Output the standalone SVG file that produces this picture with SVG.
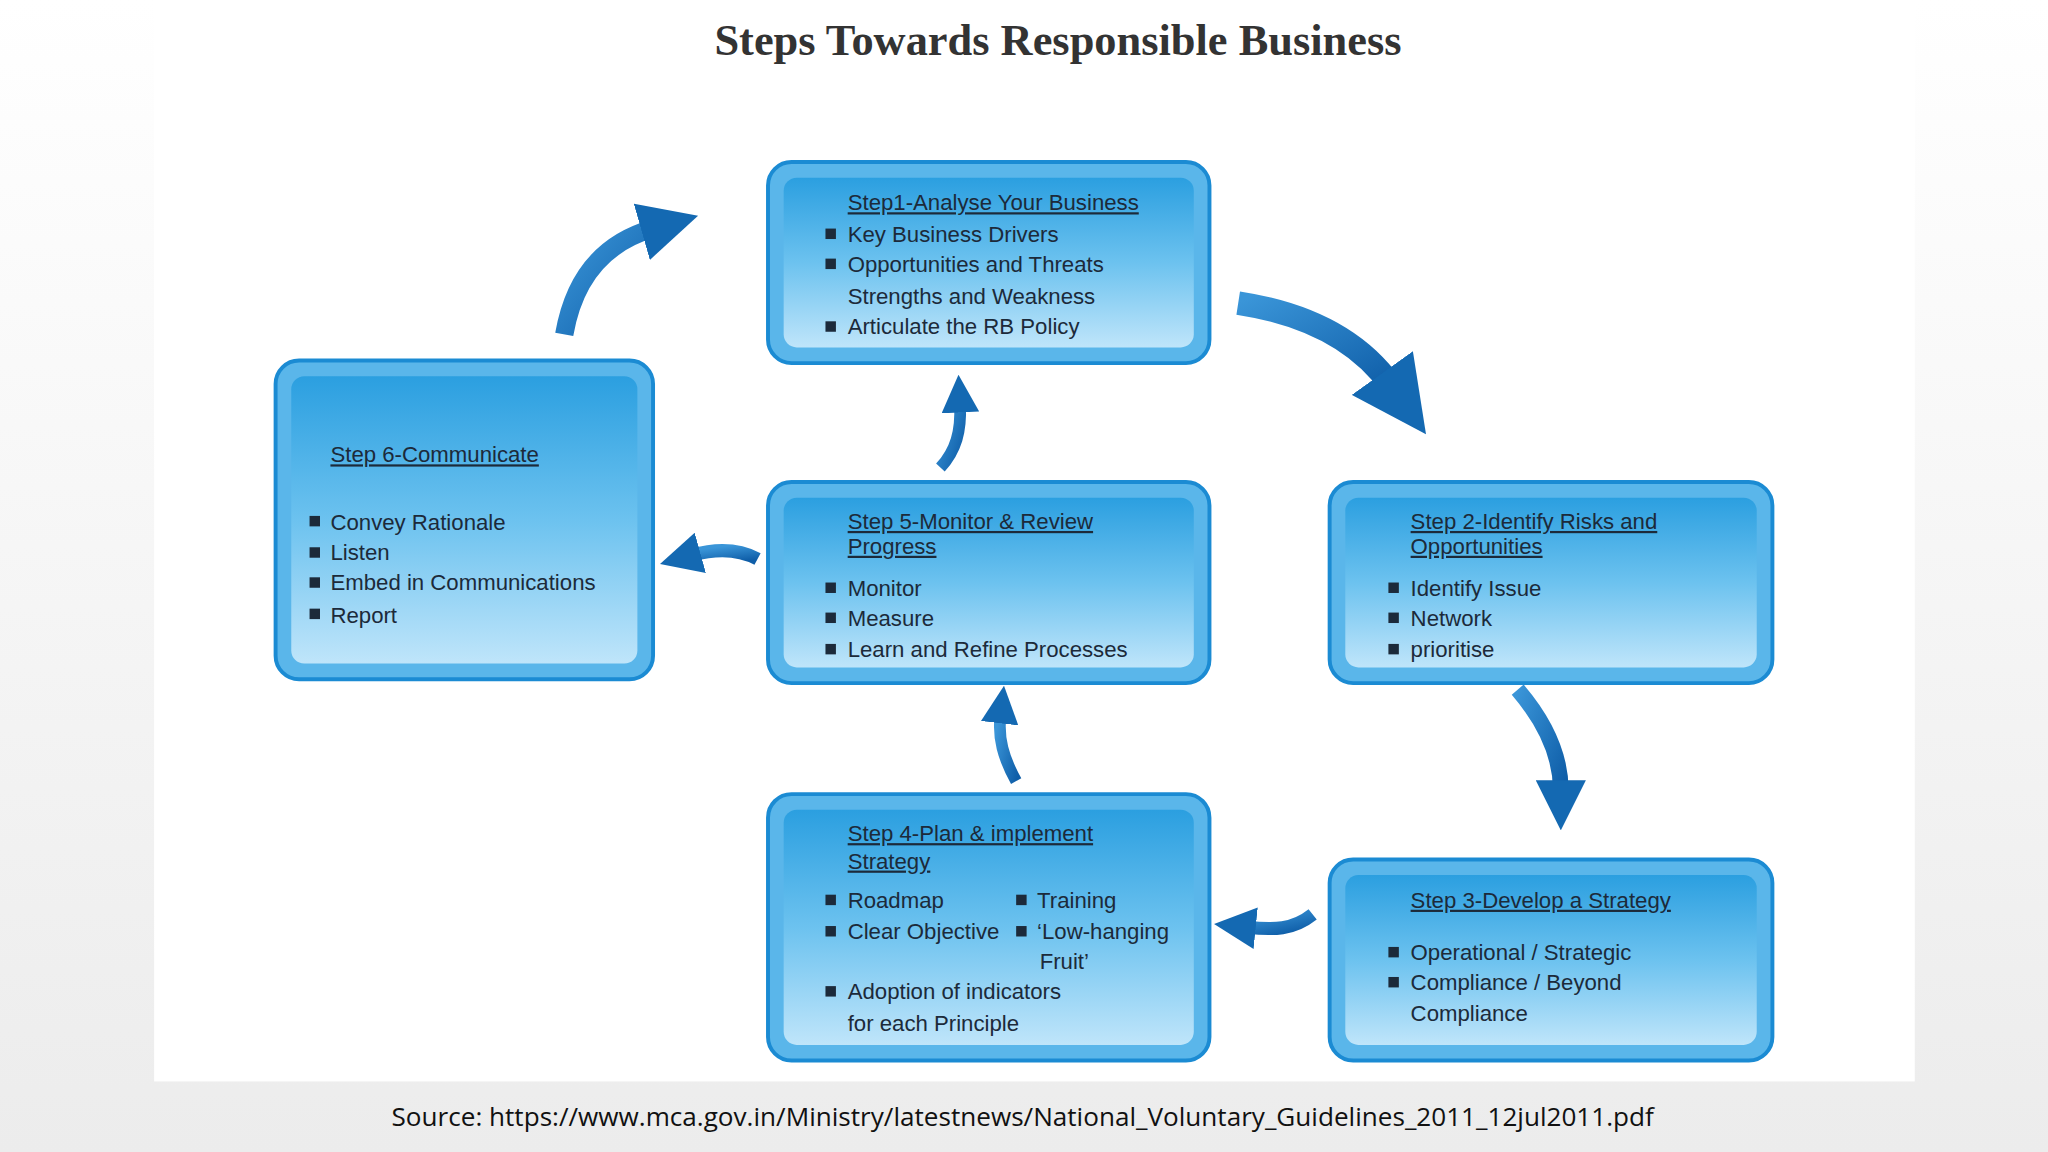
<svg xmlns="http://www.w3.org/2000/svg" width="2048" height="1152" viewBox="0 0 2048 1152">
<defs>
<linearGradient id="bg" x1="0" y1="0" x2="0" y2="1"><stop offset="0" stop-color="#ffffff"/><stop offset="1" stop-color="#ececec"/></linearGradient>
<linearGradient id="inner" x1="0" y1="0" x2="0" y2="1"><stop offset="0" stop-color="#2b9fe0"/><stop offset="0.5" stop-color="#6cc2ef"/><stop offset="1" stop-color="#bfe5fa"/></linearGradient>
<linearGradient id="arr" x1="0" y1="0" x2="1" y2="1"><stop offset="0" stop-color="#3a95d8"/><stop offset="1" stop-color="#0f5ea8"/></linearGradient>
<marker id="ah" viewBox="0 0 10 10" refX="2" refY="5" markerWidth="3.2" markerHeight="3.2" orient="auto" markerUnits="strokeWidth"><path d="M0,0 L10,5 L0,10 Z" fill="#1469b2"/></marker>
<style>
.o{fill:#5ab6ea;stroke:#1b8bd3;stroke-width:3}
.i{fill:url(#inner)}
text{font-family:"Liberation Sans",Arial,sans-serif;font-size:17px;fill:#1c2a3a}
.h{text-decoration:underline}
.b{fill:#1c2a3a}
.a{fill:none;stroke:url(#arr);stroke-linecap:butt}
</style>
</defs>
<rect width="2048" height="1152" fill="url(#bg)"/>
<g transform="scale(1.30612)">
<rect x="118" y="0" width="1348" height="828" fill="#ffffff"/>
<text x="810" y="42" text-anchor="middle" style="font-family:'Liberation Serif',serif;font-size:34px;font-weight:bold;fill:#333">Steps Towards Responsible Business</text>
<text x="783" y="862" text-anchor="middle" style="font-family:'Open Sans',sans-serif;font-size:20px;fill:#111">Source: https://www.mca.gov.in/Ministry/latestnews/National_Voluntary_Guidelines_2011_12jul2011.pdf</text>

<g id="connectors">
<path class="a" d="M432,256 C440,210 465,185 500,175" stroke-width="14" marker-end="url(#ah)"/>
<path class="a" d="M948,232 C1000,240 1040,260 1065,295" stroke-width="18" marker-end="url(#ah)"/>
<path class="a" d="M1162,528 C1185,555 1195,580 1195,605" stroke-width="12" marker-end="url(#ah)"/>
<path class="a" d="M1005,700 C990,712 975,712 955,710" stroke-width="10" marker-end="url(#ah)"/>
<path class="a" d="M778,598 C768,580 764,565 766,548" stroke-width="9" marker-end="url(#ah)"/>
<path class="a" d="M720,358 C732,345 736,330 735,310" stroke-width="9" marker-end="url(#ah)"/>
<path class="a" d="M580,428 C565,420 548,420 530,425" stroke-width="10" marker-end="url(#ah)"/>
</g>

<g id="step1"><rect class="o" x="588" y="124" width="338" height="154" rx="18"/><rect class="i" x="600" y="136" width="314" height="130" rx="10"/>
<text class="h" x="649" y="161">Step1-Analyse Your Business</text>
<rect class="b" x="632" y="175" width="8" height="8"/><text x="649" y="185">Key Business Drivers</text>
<rect class="b" x="632" y="198" width="8" height="8"/><text x="649" y="208">Opportunities and Threats</text>
<text x="649" y="233">Strengths and Weakness</text>
<rect class="b" x="632" y="246" width="8" height="8"/><text x="649" y="256">Articulate the RB Policy</text></g>

<g id="step6"><rect class="o" x="211" y="276" width="289" height="244" rx="18"/><rect class="i" x="223" y="288" width="265" height="220" rx="10"/>
<text class="h" x="253" y="354">Step 6-Communicate</text>
<rect class="b" x="237" y="395" width="8" height="8"/><text x="253" y="406">Convey Rationale</text>
<rect class="b" x="237" y="419" width="8" height="8"/><text x="253" y="429">Listen</text>
<rect class="b" x="237" y="442" width="8" height="8"/><text x="253" y="452">Embed in Communications</text>
<rect class="b" x="237" y="466" width="8" height="8"/><text x="253" y="477">Report</text></g>

<g id="step5"><rect class="o" x="588" y="369" width="338" height="154" rx="18"/><rect class="i" x="600" y="381" width="314" height="130" rx="10"/>
<text class="h" x="649" y="405">Step 5-Monitor &amp; Review</text>
<text class="h" x="649" y="424">Progress</text>
<rect class="b" x="632" y="446" width="8" height="8"/><text x="649" y="456">Monitor</text>
<rect class="b" x="632" y="469" width="8" height="8"/><text x="649" y="479">Measure</text>
<rect class="b" x="632" y="493" width="8" height="8"/><text x="649" y="503">Learn and Refine Processes</text></g>

<g id="step2"><rect class="o" x="1018" y="369" width="339" height="154" rx="18"/><rect class="i" x="1030" y="381" width="315" height="130" rx="10"/>
<text class="h" x="1080" y="405">Step 2-Identify Risks and</text>
<text class="h" x="1080" y="424">Opportunities</text>
<rect class="b" x="1063" y="446" width="8" height="8"/><text x="1080" y="456">Identify Issue</text>
<rect class="b" x="1063" y="469" width="8" height="8"/><text x="1080" y="479">Network</text>
<rect class="b" x="1063" y="493" width="8" height="8"/><text x="1080" y="503">prioritise</text></g>

<g id="step4"><rect class="o" x="588" y="608" width="338" height="204" rx="18"/><rect class="i" x="600" y="620" width="314" height="180" rx="10"/>
<text class="h" x="649" y="644">Step 4-Plan &amp; implement</text>
<text class="h" x="649" y="665">Strategy</text>
<rect class="b" x="632" y="685" width="8" height="8"/><text x="649" y="695">Roadmap</text>
<rect class="b" x="778" y="685" width="8" height="8"/><text x="794" y="695">Training</text>
<rect class="b" x="632" y="709" width="8" height="8"/><text x="649" y="719">Clear Objective</text>
<rect class="b" x="778" y="709" width="8" height="8"/><text x="794" y="719">‘Low-hanging</text>
<text x="796" y="742">Fruit’</text>
<rect class="b" x="632" y="755" width="8" height="8"/><text x="649" y="765">Adoption of indicators</text>
<text x="649" y="789">for each Principle</text></g>

<g id="step3"><rect class="o" x="1018" y="658" width="339" height="154" rx="18"/><rect class="i" x="1030" y="670" width="315" height="130" rx="10"/>
<text class="h" x="1080" y="695">Step 3-Develop a Strategy</text>
<rect class="b" x="1063" y="725" width="8" height="8"/><text x="1080" y="735">Operational / Strategic</text>
<rect class="b" x="1063" y="748" width="8" height="8"/><text x="1080" y="758">Compliance / Beyond</text>
<text x="1080" y="782">Compliance</text></g>
</g>
</svg>
